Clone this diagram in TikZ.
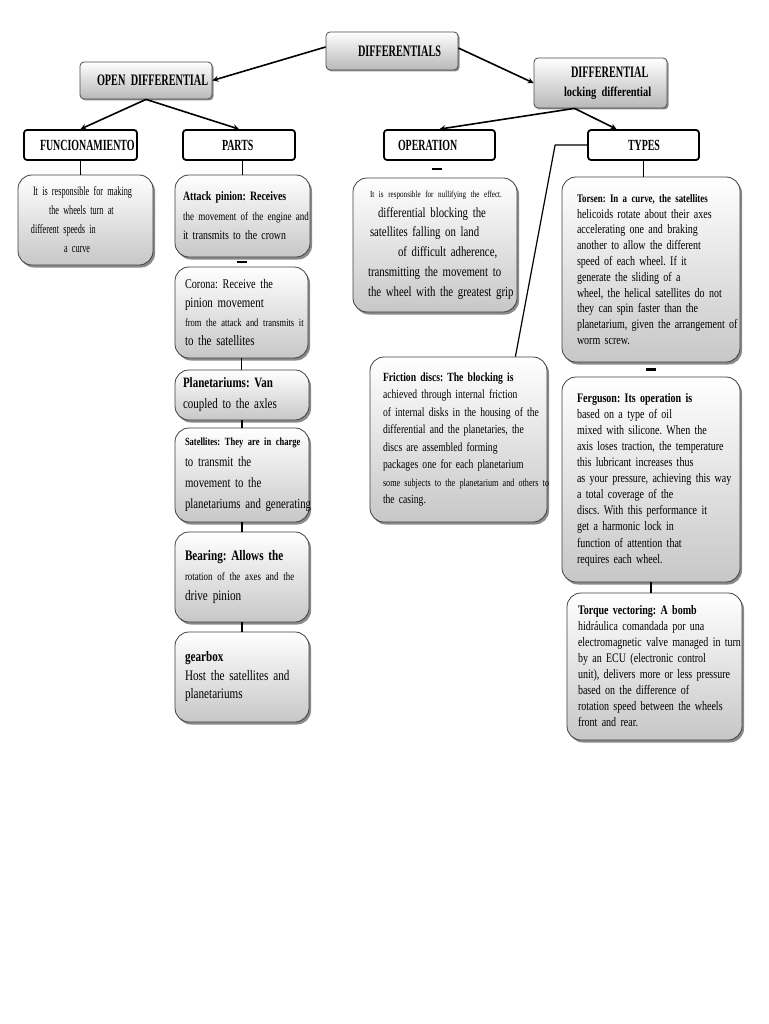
\documentclass[tikz,border=0pt]{standalone}
\usepackage{fontspec}
\setmainfont{Liberation Serif}[FakeStretch=0.77]
\newfontfamily\condfont{Liberation Serif}[FakeStretch=0.64]
\usetikzlibrary{shadows,calc}
\frenchspacing
\newcommand{\sz}[1]{\fontsize{#1}{\baselineskip}\selectfont}
\tikzset{
  head/.style={draw=black!70, line width=0.8pt, rounded corners=4pt,
    top color=white, bottom color=black!28, inner sep=0pt,
    drop shadow={shadow xshift=1.5pt, shadow yshift=-1.5pt, fill=black!70, opacity=0.6},
    font=\condfont\bfseries\fontsize{16}{19}\selectfont},
  topic/.style={draw=black, line width=1.8pt, rounded corners=3pt, fill=white,
    inner sep=0pt, font=\condfont\bfseries\fontsize{15.5}{18}\selectfont},
  card/.style={draw=black!75, line width=0.8pt, rounded corners=14pt,
    top color=white, bottom color=black!22, inner xsep=0pt, inner ysep=2pt,
    drop shadow={shadow xshift=2pt, shadow yshift=-2.5pt, fill=black!65, opacity=0.7},
    font=\fontsize{13}{16}\selectfont},
  lead/.style={execute at begin node={\leftskip=#1pt\rightskip=-15pt plus 1fil}},
}
\begin{document}
\begin{tikzpicture}[x=1pt, y=-1pt, line join=round, >=stealth,
    arr/.style={->, line width=1.6pt},
    link/.style={line width=1.2pt},
    stub/.style={line width=2.4pt}]
  \fill[white] (0,0) rectangle (768,1024);
  \useasboundingbox (0,0) rectangle (768,1024);
  % top levels
  \node[head, text width=132pt, minimum height=38pt, lead=32] (diff) at (392,51) {DIFFERENTIALS};
  \node[head, text width=132pt, minimum height=37pt, lead=17] (open) at (146,80.5) {OPEN DIFFERENTIAL};
  \node[head, text width=133pt, minimum height=50pt, lead=30] (lock) at (600.5,83)
    {\hspace*{7pt}DIFFERENTIAL\\ {\rmfamily\sz{13.5}locking differential}};
  \node[topic, text width=113pt, minimum height=30pt, lead=16] (func) at (80.5,145) {\mbox{FUNCIONAMIENTO}};
  \node[topic, text width=112pt, minimum height=30pt, lead=39] (parts) at (239,145) {PARTS};
  \node[topic, text width=111pt, minimum height=30pt, lead=14] (oper) at (439.5,145) {OPERATION};
  \node[topic, text width=111pt, minimum height=30pt, lead=40] (types) at (643.5,145) {TYPES};
  % open differential
  \node[card, text width=135pt, minimum height=90pt, lead=13, font=\condfont\fontsize{12.8}{19}\selectfont] (funcbox) at (85.5,220)
    {\hspace*{2pt}It is responsible for making\\ \hspace*{18pt}the wheels turn at\\ different speeds in\\ \hspace*{33pt}a curve};
  \node[card, text width=135pt, minimum height=82pt, lead=8, font=\fontsize{12.8}{19.5}\selectfont] (attack) at (242.5,216)
    {\textbf{Attack pinion: Receives}\\ {\sz{11.7}the movement of the engine and}\\ it transmits to the crown};
  \node[card, text width=133pt, minimum height=91pt, lead=10, font=\fontsize{14.2}{19}\selectfont] (corona) at (241.5,312.5)
    {{\sz{13.3}Corona: Receive the}\\ pinion movement\\ {\sz{11}from the attack and transmits it}\\ to the satellites};
  \node[card, text width=134pt, minimum height=50pt, lead=8, font=\fontsize{14.3}{21}\selectfont] (planet) at (242,395)
    {\textbf{Planetariums: Van}\\ coupled to the axles};
  \node[card, text width=134pt, minimum height=94pt, lead=10, font=\fontsize{14}{21}\selectfont] (satel) at (242,475)
    {{\sz{11}\bfseries Satellites: They are in charge}\\ to transmit the\\ movement to the\\ planetariums and generating};
  \node[card, text width=134pt, minimum height=90pt, lead=10, font=\fontsize{14.5}{20}\selectfont] (bearing) at (242,577)
    {\textbf{Bearing: Allows the}\\ {\sz{11.5}rotation of the axes and the}\\ drive pinion};
  \node[card, text width=134pt, minimum height=90pt, lead=10, font=\fontsize{14.5}{18.5}\selectfont] (gearbox) at (242,677)
    {\textbf{gearbox}\\ Host the satellites and\\ planetariums};
  % locking differential
  \node[card, text width=164pt, minimum height=134pt, lead=15, font=\fontsize{14}{19.8}\selectfont] (opbox) at (435,245)
    {\hspace*{2pt}{\sz{9.2}It is responsible for nullifying the effect.}\\ \hspace*{10pt}differential blocking the\\
     \hspace*{2pt}satellites falling on land\\ \hspace*{30pt}of difficult adherence,\\ transmitting the movement to\\
     the wheel with the greatest grip};
  \node[card, text width=177pt, minimum height=165pt, lead=13, font=\fontsize{12.5}{17.5}\selectfont] (friction) at (458.5,439.5)
    {\textbf{Friction discs: The blocking is}\\ achieved through internal friction\\ of internal disks in the housing of the\\
     differential and the planetaries, the\\ discs are assembled forming\\ packages one for each planetarium\\
     {\sz{10.6}some subjects to the planetarium and others to}\\ the casing.};
  \node[card, text width=178pt, minimum height=185pt, lead=15, font=\fontsize{13}{15.8}\selectfont] (torsen) at (651,269.5)
    {{\sz{11.5}\bfseries Torsen: In a curve, the satellites}\\ helicoids rotate about their axes\\ accelerating one and braking\\
     another to allow the different\\ speed of each wheel. If it\\ generate the sliding of a\\
     wheel, the helical satellites do not\\ they can spin faster than the\\ planetarium, given the arrangement of\\ worm screw.};
  \node[card, text width=178pt, minimum height=205pt, lead=15, font=\fontsize{13}{16.1}\selectfont] (ferguson) at (651,479.5)
    {\textbf{Ferguson: Its operation is}\\ based on a type of oil\\ mixed with silicone. When the\\
     axis loses traction, the temperature\\ this lubricant increases thus\\ as your pressure, achieving this way\\
     a total coverage of the\\ discs. With this performance it\\ get a harmonic lock in\\ function of attention that\\ requires each wheel.};
  \node[card, text width=175pt, minimum height=147pt, lead=11, font=\fontsize{13}{16}\selectfont] (torque) at (654.5,666.5)
    {\textbf{Torque vectoring: A bomb}\\ hidráulica comandada por una\\ electromagnetic valve managed in turn\\
     by an ECU (electronic control\\ unit), delivers more or less pressure\\ based on the difference of\\
     rotation speed between the wheels\\ front and rear.};
  % arrows
  \draw[arr] ([yshift=4pt]diff.west) -- (open.east);
  \draw[arr] ([yshift=3pt]diff.east) -- (lock.west);
  \draw[arr] (open.south) -- (func.north);
  \draw[arr] (open.south) -- (parts.north);
  \draw[arr] ([xshift=-26pt]lock.south) -- (oper.north);
  \draw[arr] ([xshift=-26pt]lock.south) -- ([xshift=-27pt]types.north);
  % plain links
  \draw[link] (func.south) -- (func.south |- funcbox.north);
  \draw[link] (attack.north |- parts.south) -- (attack.north);
  \draw[link] (types.south) -- (types.south |- torsen.north);
  \foreach \a/\b in {corona/planet,planet/satel,satel/bearing,bearing/gearbox,ferguson/torque}
    \draw[link] (\a.south) -- (\a.south |- \b.north);
  \foreach \a/\b in {attack/corona,oper/opbox,torsen/ferguson}
    \draw[stub] ($(\a.south)!.5!(\b.north)$) +(-5,0) -- +(5,0);
  \path (types.west) ++(-32,0) coordinate (bend);
  \draw[link] (types.west) -- (bend) -- ([xshift=-32pt]friction.north east);
\end{tikzpicture}
\end{document}
